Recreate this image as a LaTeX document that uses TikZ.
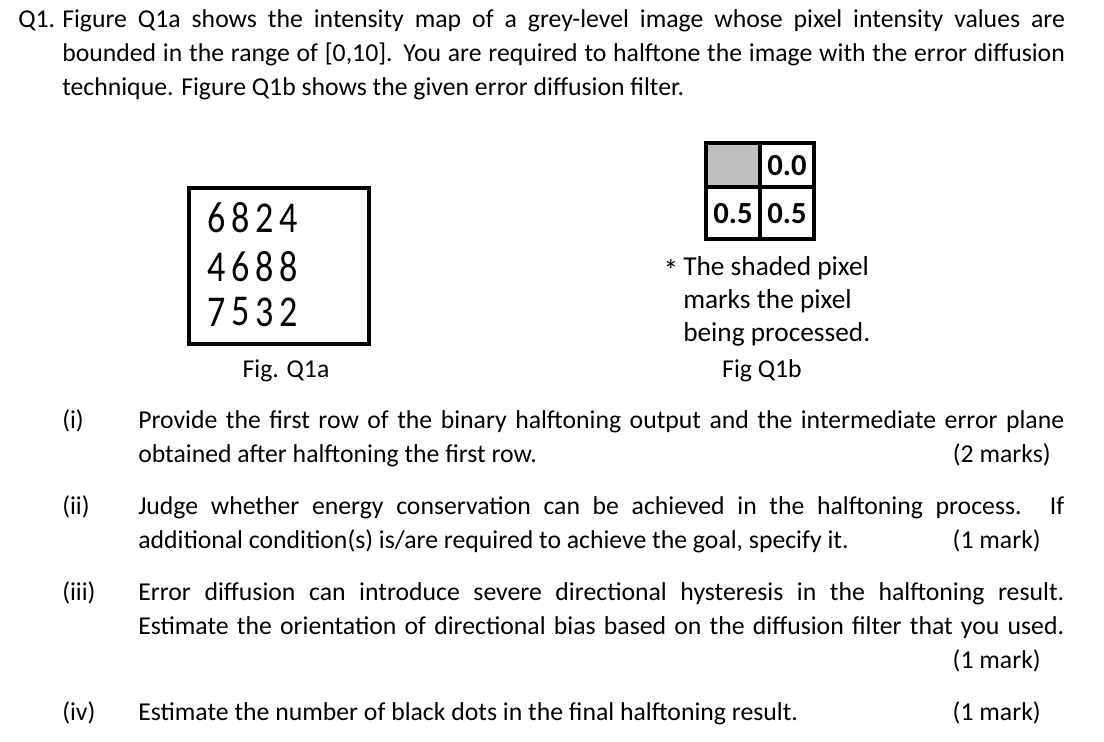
\documentclass[tikz,border=0pt]{standalone}
\usepackage{fontspec}
\setmainfont{Carlito}
\begin{document}
\begin{tikzpicture}[x=0.75pt,y=-0.75pt,
  txt/.style={anchor=base west,inner sep=0pt,font=\fontsize{19.3}{22}\selectfont},
  note/.style={anchor=base west,inner sep=0pt,font=\fontsize{20.5}{22}\selectfont},
  mk/.style={anchor=base east,inner sep=0pt,font=\fontsize{19.3}{22}\selectfont},
  dig/.style={inner sep=0pt,xscale=0.82,font=\fontsize{33}{34}\selectfont},
  cellnum/.style={inner sep=0pt,font=\fontsize{23}{24}\selectfont\bfseries}]
\useasboundingbox (0,0) rectangle (1104,742);
\newcommand{\jl}[1]{\makebox[694.5pt][s]{#1}}
% header
\node[txt] (q) at (18,28) {Q1.};
\node[txt] (l1) at (62,28) {\makebox[752pt][s]{Figure Q1a shows the intensity map of a grey-level image whose pixel intensity values are}};
\node[txt] (l2) at (62,62) {\makebox[752pt][s]{bounded in the range of [0,10]. You are required to halftone the image with the error diffusion}};
\node[txt] (l3) at (62,96) {technique. Figure Q1b shows the given error diffusion filter.};
% Fig Q1a
\draw[line width=3pt] (189,188) rectangle (369,344);
\foreach \r/\y in {{6,8,2,4}/218,{4,6,8,8}/267,{7,5,3,2}/312}{
  \foreach \d [count=\i] in \r {
    \node[dig] at (193+24*\i,\y) {\d};
  }
}
\node[txt,anchor=base] (ca) at (286,377) {Fig. Q1a};
% Fig Q1b
\fill[gray!50] (706,143) rectangle (760,187);
\draw[line width=2.5pt] (706,143) rectangle (814,239);
\draw[line width=2.5pt] (760,143) -- (760,239);
\draw[line width=2.5pt] (706,187) -- (814,187);
\node[cellnum] (c1) at (787,166) {0.0};
\node[cellnum] (c2) at (733,214) {0.5};
\node[cellnum] (c3) at (787,214) {0.5};
\node[inner sep=0pt,font=\fontsize{22}{22}\selectfont] (ast) at (671,270) {*};
\node[note] (n1) at (683,275) {The shaded pixel};
\node[note] (n2) at (683,308) {marks the pixel};
\node[note] (n3) at (683,341) {being processed.};
\node[txt,anchor=base] (cb) at (762,377) {Fig Q1b};
% questions
\node[txt] (i) at (62,428) {(i)};
\node[txt] (i1) at (138,428) {\jl{Provide the first row of the binary halftoning output and the intermediate error plane}};
\node[txt] (i2) at (138,462) {obtained after halftoning the first row.};
\node[mk] (im) at (1051,462) {(2 marks)};
\node[txt] (ii) at (62,514) {(ii)};
\node[txt] (ii1) at (138,514) {\jl{Judge whether energy conservation can be achieved in the halftoning process. If}};
\node[txt] (ii2) at (138,548) {additional condition(s) is/are required to achieve the goal, specify it.};
\node[mk] (iim) at (1041,548) {(1 mark)};
\node[txt] (iii) at (62,600) {(iii)};
\node[txt] (iii1) at (138,600) {\jl{Error diffusion can introduce severe directional hysteresis in the halftoning result.}};
\node[txt] (iii2) at (138,634) {\jl{Estimate the orientation of directional bias based on the diffusion filter that you used.}};
\node[mk] (iiim) at (1041,668) {(1 mark)};
\node[txt] (iv) at (62,720) {(iv)};
\node[txt] (iv1) at (138,720) {Estimate the number of black dots in the final halftoning result.};
\node[mk] (ivm) at (1041,720) {(1 mark)};
\end{tikzpicture}
\end{document}
